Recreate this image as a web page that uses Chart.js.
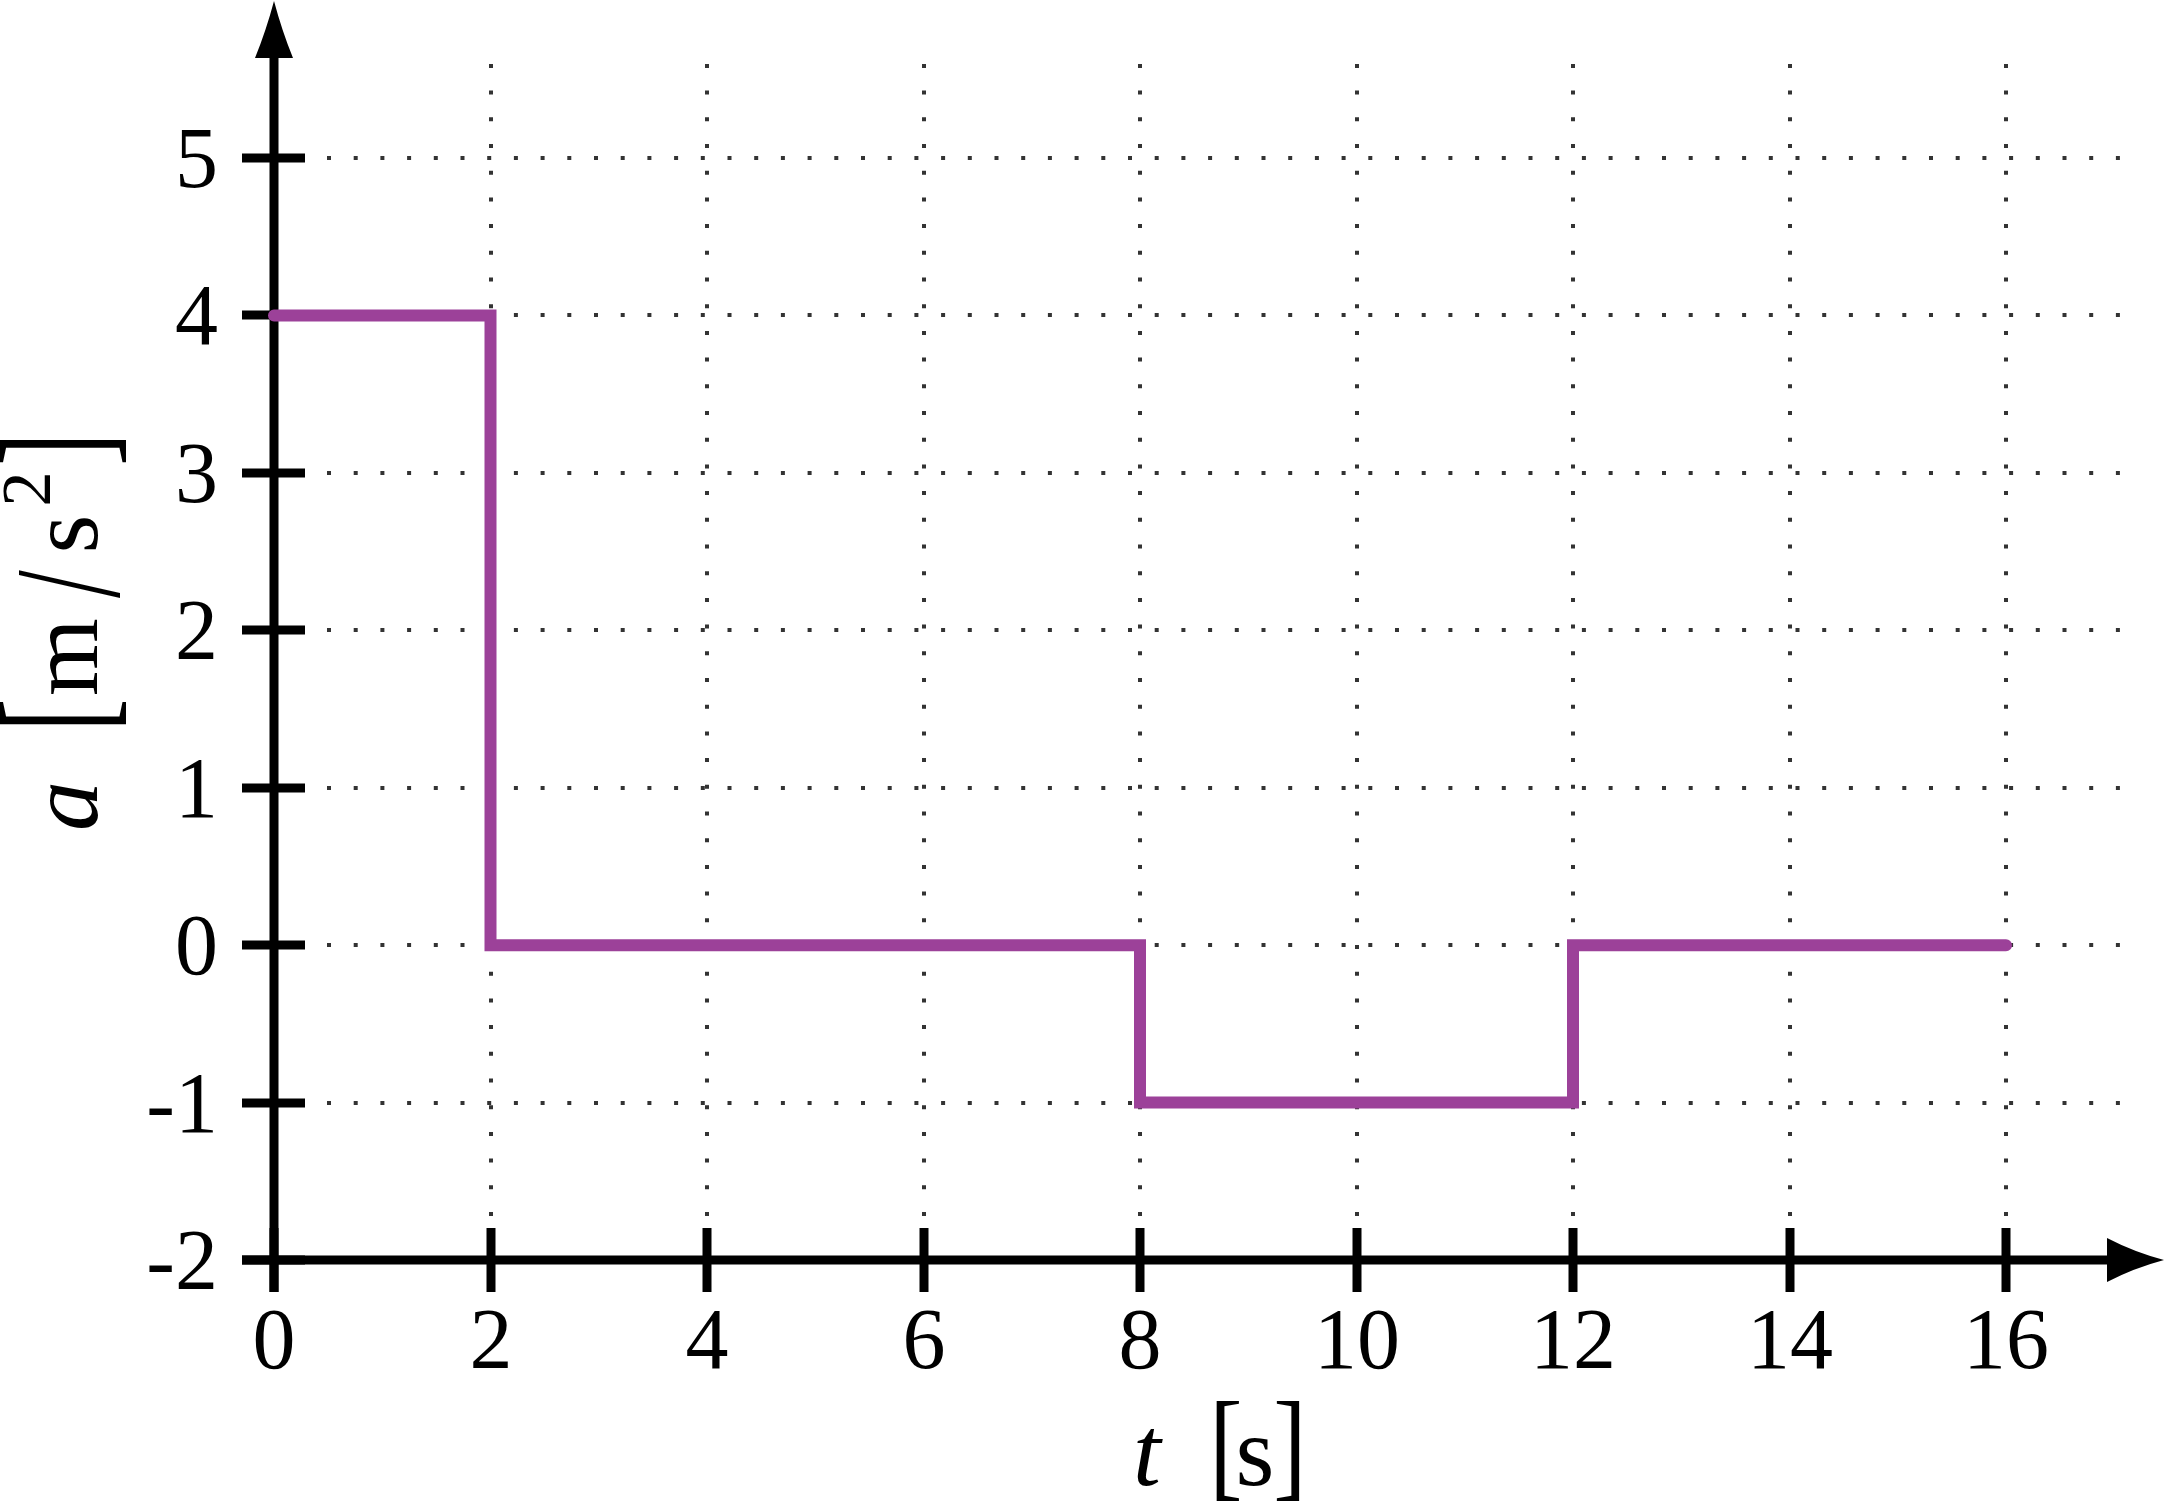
<!DOCTYPE html>
<html lang="en">

<head>
    <meta charset="UTF-8">
    <title>a(t)</title>
    <style>
        body {
            margin: 0;
            padding: 0;
            background-color: #fff;
        }

        #chart {
            display: block;
        }
    </style>
</head>

<body>
    <canvas id="chart" width="2164" height="1512"></canvas>

    <script src="https://cdn.jsdelivr.net/npm/chart.js"></script>
    <script>
        // corners of the step curve, t in s and a in m/s^2
        const timeValues = [0, 2, 2, 8, 8, 12, 12, 16];
        const accelValues = [4, 4, 0, 0, -1, -1, 0, 0];

        const xTicks = [0, 2, 4, 6, 8, 10, 12, 14, 16];
        const yTicks = [-2, -1, 0, 1, 2, 3, 4, 5];
        const yTickLabels = ['-2', '-1', '0', '1', '2', '3', '4', '5'];

        const lineColor = '#9c4199';
        const gridColor = '#333';
        const serif = '"Liberation Serif", "DejaVu Serif", serif';

        // text glyph stretched vertically (big brackets, slash)
        function drawStretched(ctx, text, x, y, font, sy) {
            ctx.save();
            ctx.translate(x, y);
            ctx.scale(1, sy);
            ctx.font = font;
            ctx.fillText(text, 0, 0);
            ctx.restore();
        }

        // draws grid, axes with arrows, ticks and labels around the chart area
        const axesPlugin = {
            id: 'axes',
            beforeDatasetsDraw(chart) {
                const ctx = chart.ctx;
                const xs = chart.scales.x;
                const ys = chart.scales.y;
                const px = v => Math.round(xs.getPixelForValue(v));
                const py = v => Math.round(ys.getPixelForValue(v));
                const x0 = px(0);
                const yBottom = py(-2);

                ctx.save();

                // dotted grid
                ctx.strokeStyle = gridColor;
                ctx.lineWidth = 4;
                ctx.lineCap = 'butt';
                ctx.setLineDash([4, 22.7]);
                const gridRight = px(17.2);
                const gridTop = py(5.6);
                yTicks.forEach(v => {
                    if (v === -2) return;
                    const y = py(v);
                    ctx.beginPath();
                    ctx.moveTo(x0 + 53, y);
                    ctx.lineTo(gridRight, y);
                    ctx.stroke();
                });
                xTicks.forEach(v => {
                    if (v === 0) return;
                    const x = px(v);
                    ctx.beginPath();
                    ctx.moveTo(x, yBottom - 44);
                    ctx.lineTo(x, gridTop);
                    ctx.stroke();
                });
                ctx.setLineDash([]);

                // axes
                ctx.strokeStyle = '#000';
                ctx.fillStyle = '#000';
                ctx.lineWidth = 9;
                const xArrowTip = px(17.46);
                const yArrowTip = py(6.0);
                ctx.beginPath();
                ctx.moveTo(x0 - 32, yBottom);
                ctx.lineTo(xArrowTip - 50, yBottom);
                ctx.stroke();
                ctx.beginPath();
                ctx.moveTo(x0, yBottom + 32);
                ctx.lineTo(x0, yArrowTip + 50);
                ctx.stroke();

                // arrow heads
                ctx.beginPath();
                ctx.moveTo(xArrowTip, yBottom);
                ctx.quadraticCurveTo(xArrowTip - 30, yBottom - 8, xArrowTip - 57, yBottom - 22);
                ctx.lineTo(xArrowTip - 57, yBottom + 22);
                ctx.quadraticCurveTo(xArrowTip - 30, yBottom + 8, xArrowTip, yBottom);
                ctx.fill();
                ctx.beginPath();
                ctx.moveTo(x0, yArrowTip);
                ctx.quadraticCurveTo(x0 - 8, yArrowTip + 30, x0 - 19, yArrowTip + 57);
                ctx.lineTo(x0 + 19, yArrowTip + 57);
                ctx.quadraticCurveTo(x0 + 8, yArrowTip + 30, x0, yArrowTip);
                ctx.fill();

                // ticks
                yTicks.forEach(v => {
                    const y = py(v);
                    ctx.beginPath();
                    ctx.moveTo(x0 - 32, y);
                    ctx.lineTo(x0 + 31, y);
                    ctx.stroke();
                });
                xTicks.forEach(v => {
                    const x = px(v);
                    ctx.beginPath();
                    ctx.moveTo(x, yBottom - 32);
                    ctx.lineTo(x, yBottom + 32);
                    ctx.stroke();
                });

                // tick labels
                ctx.font = '86px ' + serif;
                ctx.textBaseline = 'alphabetic';
                ctx.textAlign = 'right';
                yTicks.forEach((v, i) => {
                    ctx.fillText(yTickLabels[i], x0 - 56, py(v) + 29);
                });
                ctx.textAlign = 'center';
                xTicks.forEach(v => {
                    ctx.fillText(String(v), px(v), yBottom + 108);
                });

                // x title: t [s]
                ctx.font = 'italic 100px ' + serif;
                ctx.fillText('t', 1147, 1485);
                ctx.font = '100px ' + serif;
                ctx.fillText('s', 1255, 1485);
                drawStretched(ctx, '[', 1226, 1485, '100px ' + serif, 1.21);
                drawStretched(ctx, ']', 1290, 1485, '100px ' + serif, 1.21);

                // y title: a [m/s^2], rotated
                ctx.translate(97, 830);
                ctx.rotate(-Math.PI / 2);
                ctx.font = 'italic 100px ' + serif;
                ctx.fillText('a', 24, 0);
                ctx.font = '100px ' + serif;
                ctx.fillText('m', 173, 0);
                ctx.fillText('s', 296, 0);
                drawStretched(ctx, '/', 246, 22, '100px ' + serif, 1.5);
                ctx.font = '70px ' + serif;
                ctx.fillText('2', 341, -47);
                drawStretched(ctx, '[', 115, 9, '100px ' + serif, 1.53);
                drawStretched(ctx, ']', 381, 9, '100px ' + serif, 1.53);

                ctx.restore();
            }
        };

        const chart = new Chart(document.getElementById('chart'), {
            type: 'line',
            data: {
                datasets: [{
                    data: timeValues.map((t, i) => ({ x: t, y: accelValues[i] })),
                    borderColor: lineColor,
                    borderWidth: 12,
                    borderCapStyle: 'round',
                    borderJoinStyle: 'miter',
                    pointRadius: 0,
                    tension: 0,
                    fill: false,
                    clip: false
                }]
            },
            options: {
                responsive: false,
                animation: false,
                devicePixelRatio: 1,
                layout: {
                    padding: { left: 274, right: 158, top: 158, bottom: 252 }
                },
                plugins: {
                    legend: { display: false },
                    tooltip: { enabled: false }
                },
                scales: {
                    x: { type: 'linear', min: 0, max: 16, display: false },
                    y: { type: 'linear', min: -2, max: 5, display: false }
                }
            },
            plugins: [axesPlugin]
        });
    </script>
</body>

</html>
